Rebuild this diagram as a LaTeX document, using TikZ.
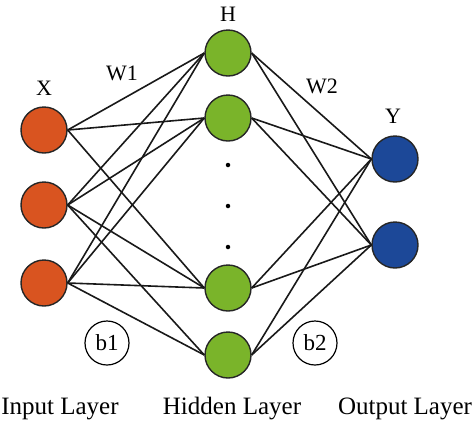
\documentclass[tikz,border=0pt]{standalone}
\usepackage{fontspec}
\setmainfont{Liberation Serif}
\definecolor{inorange}{RGB}{217,84,32}
\definecolor{hidgreen}{RGB}{122,180,42}
\definecolor{outblue}{RGB}{28,72,152}
\begin{document}
\begin{tikzpicture}[x=1pt,y=-1pt,
  neuron/.style={circle,draw=black!85,line width=1.4pt,minimum size=46pt,inner sep=0pt},
  inneuron/.style={neuron,fill=inorange},
  hidneuron/.style={neuron,fill=hidgreen},
  outneuron/.style={neuron,fill=outblue},
  bias/.style={circle,draw=black,line width=1.2pt,minimum size=44pt,inner sep=0pt,font=\fontsize{23}{26}\selectfont},
  lbl/.style={font=\fontsize{22}{26}\selectfont,inner sep=0pt},
  layer/.style={font=\fontsize{25}{30}\selectfont,inner sep=0pt},
  wire/.style={line width=1.6pt,black!90}]
\useasboundingbox (0,0) rectangle (474,424);
\node[inneuron] (i1) at (44,130) {};
\node[inneuron] (i2) at (44,205) {};
\node[inneuron] (i3) at (44,283) {};
\node[hidneuron] (h1) at (228,53) {};
\node[hidneuron] (h2) at (228,118) {};
\node[hidneuron] (h3) at (228,288) {};
\node[hidneuron] (h4) at (228,355) {};
\node[outneuron] (o1) at (395,159) {};
\node[outneuron] (o2) at (395,245) {};
\foreach \d/\yy in {d1/165,d2/206,d3/247}
  \node[circle,fill=black,inner sep=0pt,minimum size=4.5pt] (\d) at (228,\yy) {};
\foreach \i/\h in {i1/h1,i1/h2,i1/h3,i2/h1,i2/h2,i2/h3,i2/h4,i3/h1,i3/h2,i3/h3,i3/h4}
  \draw[wire] (\i.east) -- (\h.west);
\foreach \h in {h1,h2,h3,h4}
  \foreach \o in {o1,o2}
    \draw[wire] (\h.east) -- (\o.west);
\node[bias] (b1) at (107,343) {b1};
\node[bias] (b2) at (315,343) {b2};
\node[lbl] (X) at (44,88) {X};
\node[lbl] (W1) at (122,73) {W1};
\node[lbl] (H) at (228,14) {H};
\node[lbl] (W2) at (322,86) {W2};
\node[lbl] (Y) at (393,116) {Y};
\node[layer] (li) at (60,409) {Input Layer};
\node[layer] (lh) at (232,409) {Hidden Layer};
\node[layer] (lo) at (405,409) {Output Layer};
\end{tikzpicture}
\end{document}
